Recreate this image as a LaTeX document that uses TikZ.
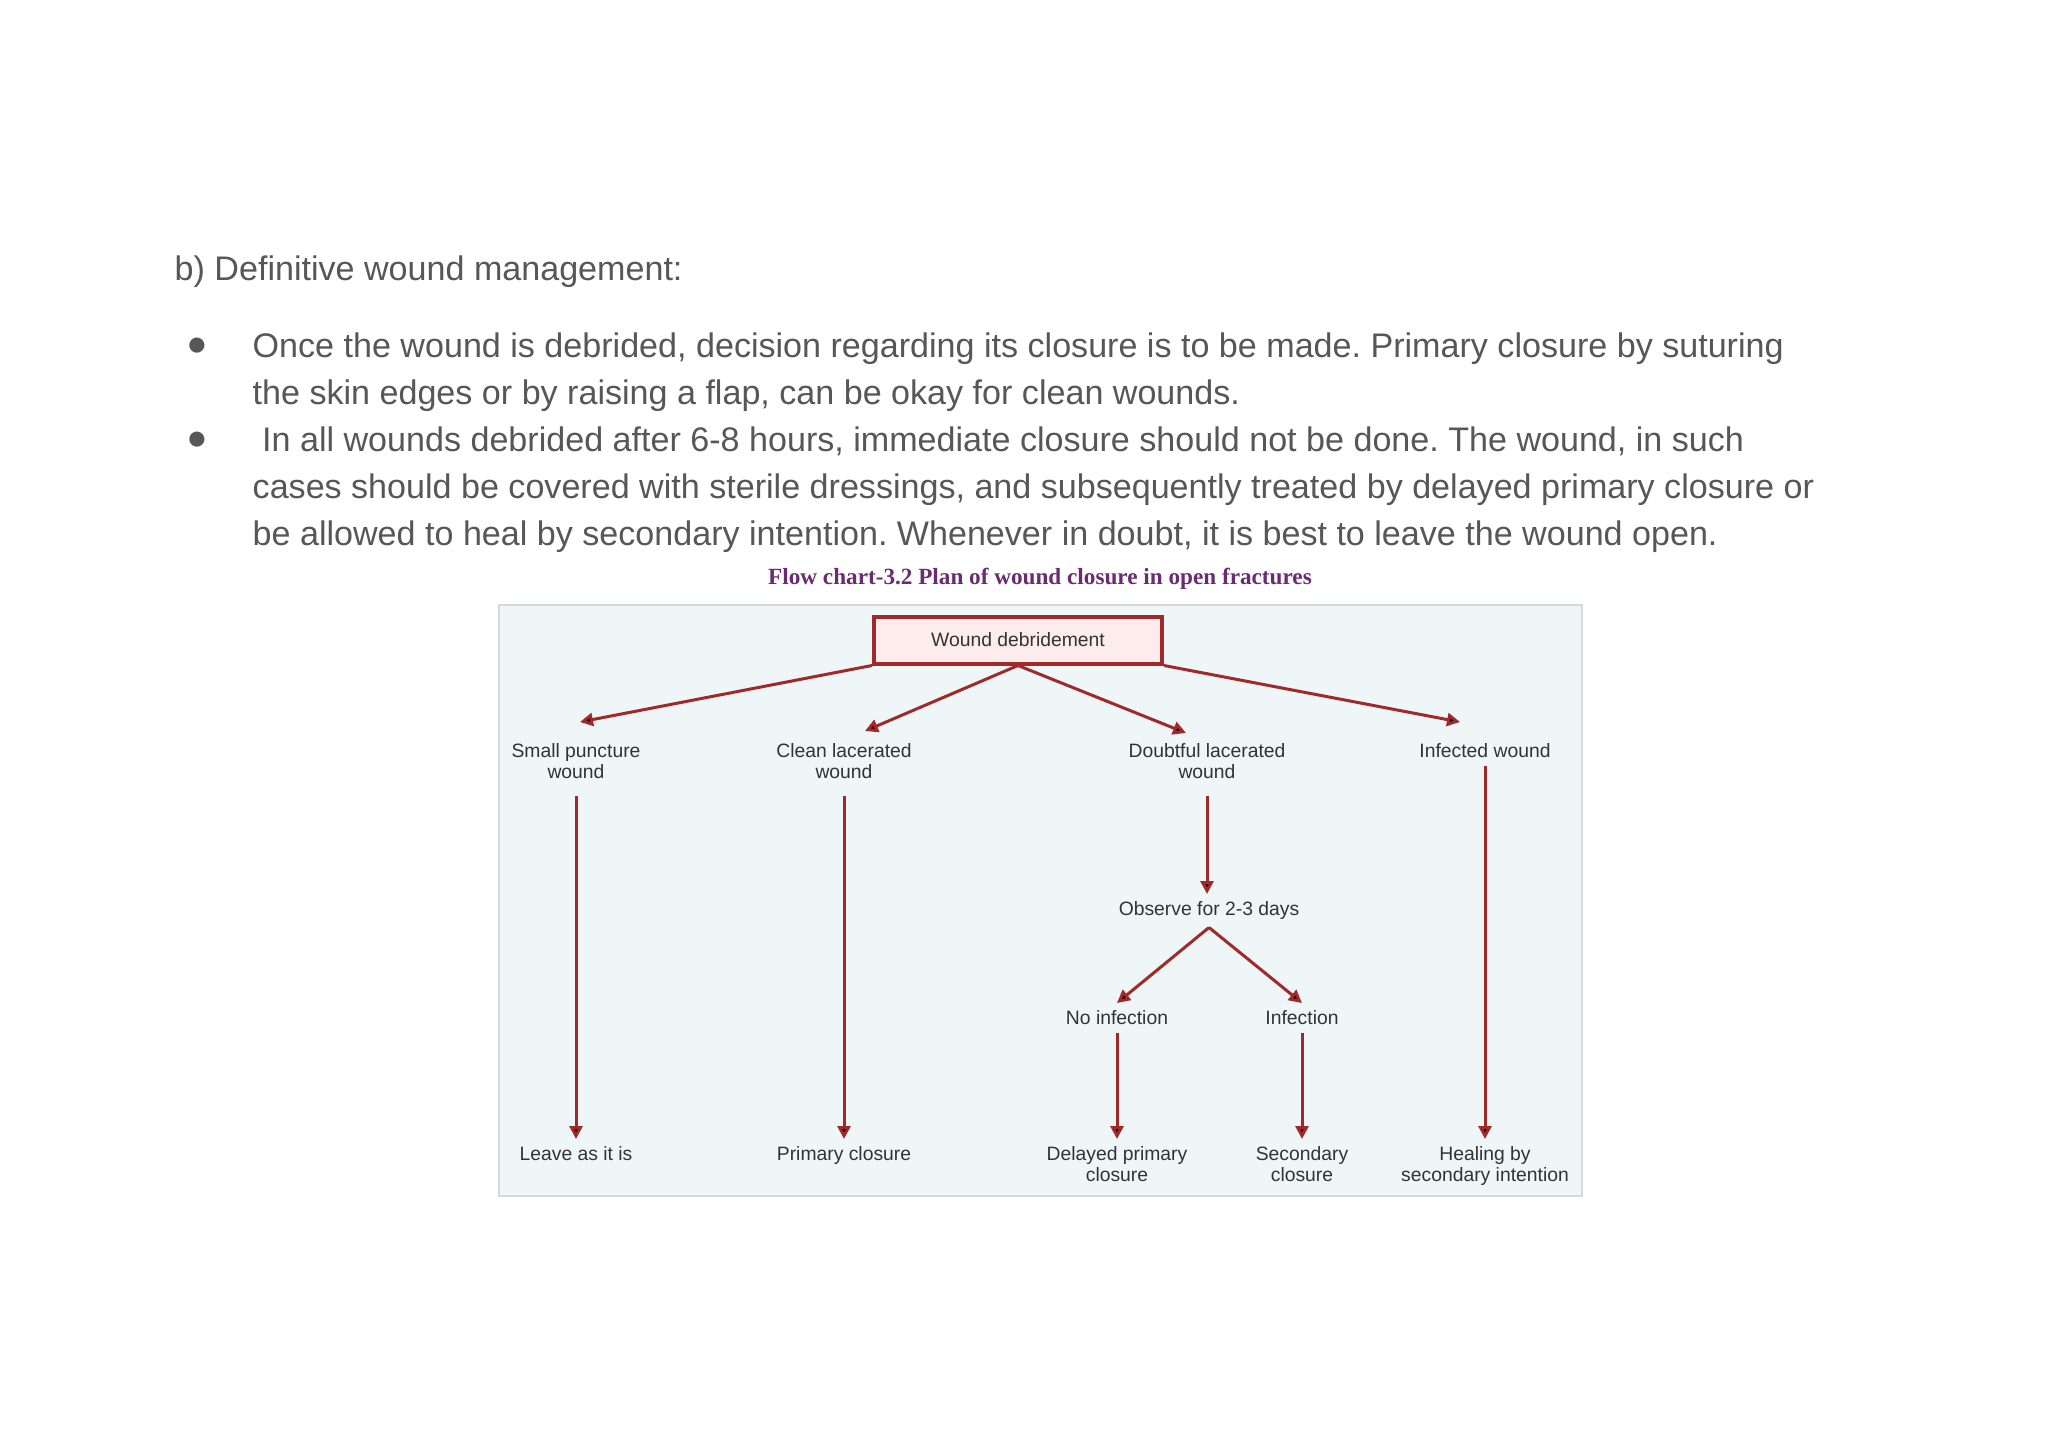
\documentclass[tikz,border=0pt]{standalone}
\usepackage{fontspec}
\setmainfont{Liberation Sans}
\newfontfamily\capfont{Liberation Serif}
\usepackage{tikz}
\usetikzlibrary{arrows.meta,positioning}
\definecolor{bodygray}{HTML}{575757}
\definecolor{capviolet}{HTML}{6A2C70}
\definecolor{panelfill}{HTML}{EEF6F8}
\definecolor{panelline}{HTML}{D3DADC}
\definecolor{chartred}{HTML}{A0292A}
\definecolor{rootfill}{HTML}{FCECEC}
\definecolor{chartgray}{HTML}{333333}
\frenchspacing
\tikzset{bodyline/.style={anchor=base west,inner sep=0pt,text=bodygray,font=\fontsize{9.7}{12}\selectfont}}
\tikzset{dot/.style={inner sep=0pt,text=bodygray,font=\fontsize{10}{12}\selectfont}}
\tikzset{caption/.style={anchor=base,inner sep=0pt,text=capviolet,font=\capfont\bfseries\fontsize{6.6}{7}\selectfont}}
\tikzset{label/.style={anchor=north,align=center,inner sep=2pt,text=chartgray,font=\fontsize{5.5}{6}\selectfont}}
\tikzset{rootbox/.style={label,anchor=center,draw=chartred,fill=rootfill,line width=0.4mm,minimum width=28.8mm,minimum height=4.7mm}}
\tikzset{flow/.style={draw=chartred,line width=0.3mm,every edge/.append style={->}}}

\begin{document}
\begin{tikzpicture}[x=0.1mm,y=-0.1mm,>={Triangle[length=1.3mm,width=1.3mm]}]
  \useasboundingbox[fill=white] (0,0) rectangle (2048,1448);
  % text above the chart
  \node[bodyline] (head) at (174,281) {b) Definitive wound management:};
  \node[dot] (dot1) at (197,347) {●};
  \node[dot] (dot2) at (197,441) {●};
  \node[bodyline] (lineA) at (252,357) {Once the wound is debrided, decision regarding its closure is to be made. Primary closure by suturing};
  \node[bodyline] (lineB) at (252,404) {the skin edges or by raising a flap, can be okay for clean wounds.};
  \node[bodyline] (lineC) at (252,451) {\ In all wounds debrided after 6-8 hours, immediate closure should not be done. The wound, in such};
  \node[bodyline] (lineD) at (252,498) {cases should be covered with sterile dressings, and subsequently treated by delayed primary closure or};
  \node[bodyline] (lineE) at (252,545) {be allowed to heal by secondary intention. Whenever in doubt, it is best to leave the wound open.};
  \node[caption] (cap) at (1040,584) {Flow chart-3.2 Plan of wound closure in open fractures};
  % chart
  \filldraw[fill=panelfill,draw=panelline,line width=0.15mm] (499,605) rectangle (1582,1196);
  \node[rootbox] (root) at (1018,640) {Wound debridement};
  \node[label] (small) at (576,736) {Small puncture\\wound};
  \node[label] (clean) at (844,736) {Clean lacerated\\wound};
  \node[label] (doubt) at (1207,736) {Doubtful lacerated\\wound};
  \node[label] (infected) at (1485,736) {Infected wound};
  \node[label] (observe) at (1209,894) {Observe for 2-3 days};
  \node[label] (noinf) at (1117,1003) {No infection};
  \node[label] (inf) at (1302,1003) {Infection};
  \node[label] (leave) at (576,1139) {Leave as it is};
  \node[label] (primary) at (844,1139) {Primary closure};
  \node[label] (delayed) at (1117,1139) {Delayed primary\\closure};
  \node[label] (second) at (1302,1139) {Secondary\\closure};
  \node[label] (healing) at (1485,1139) {Healing by\\secondary intention};
  \draw[flow] (root.south west) edge ([shift={(4,-14)}]small.north)
              (root.south) edge ([shift={(21,-5)}]clean.north)
              (root.south) edge ([shift={(-21,-3)}]doubt.north)
              (root.south east) edge ([shift={(-25,-14)}]infected.north)
              (small.south) edge[shorten <=2.5pt] (small.south |- leave.north)
              (clean.south) edge[shorten <=2.5pt] (clean.south |- primary.north)
              (doubt.south) edge[shorten <=2.5pt] (doubt.south |- observe.north)
              (infected.south) edge (infected.south |- healing.north)
              (observe.south) edge (noinf.north)
              (observe.south) edge (inf.north)
              (noinf.south) edge (delayed.north)
              (inf.south) edge (second.north);
\end{tikzpicture}
\end{document}
